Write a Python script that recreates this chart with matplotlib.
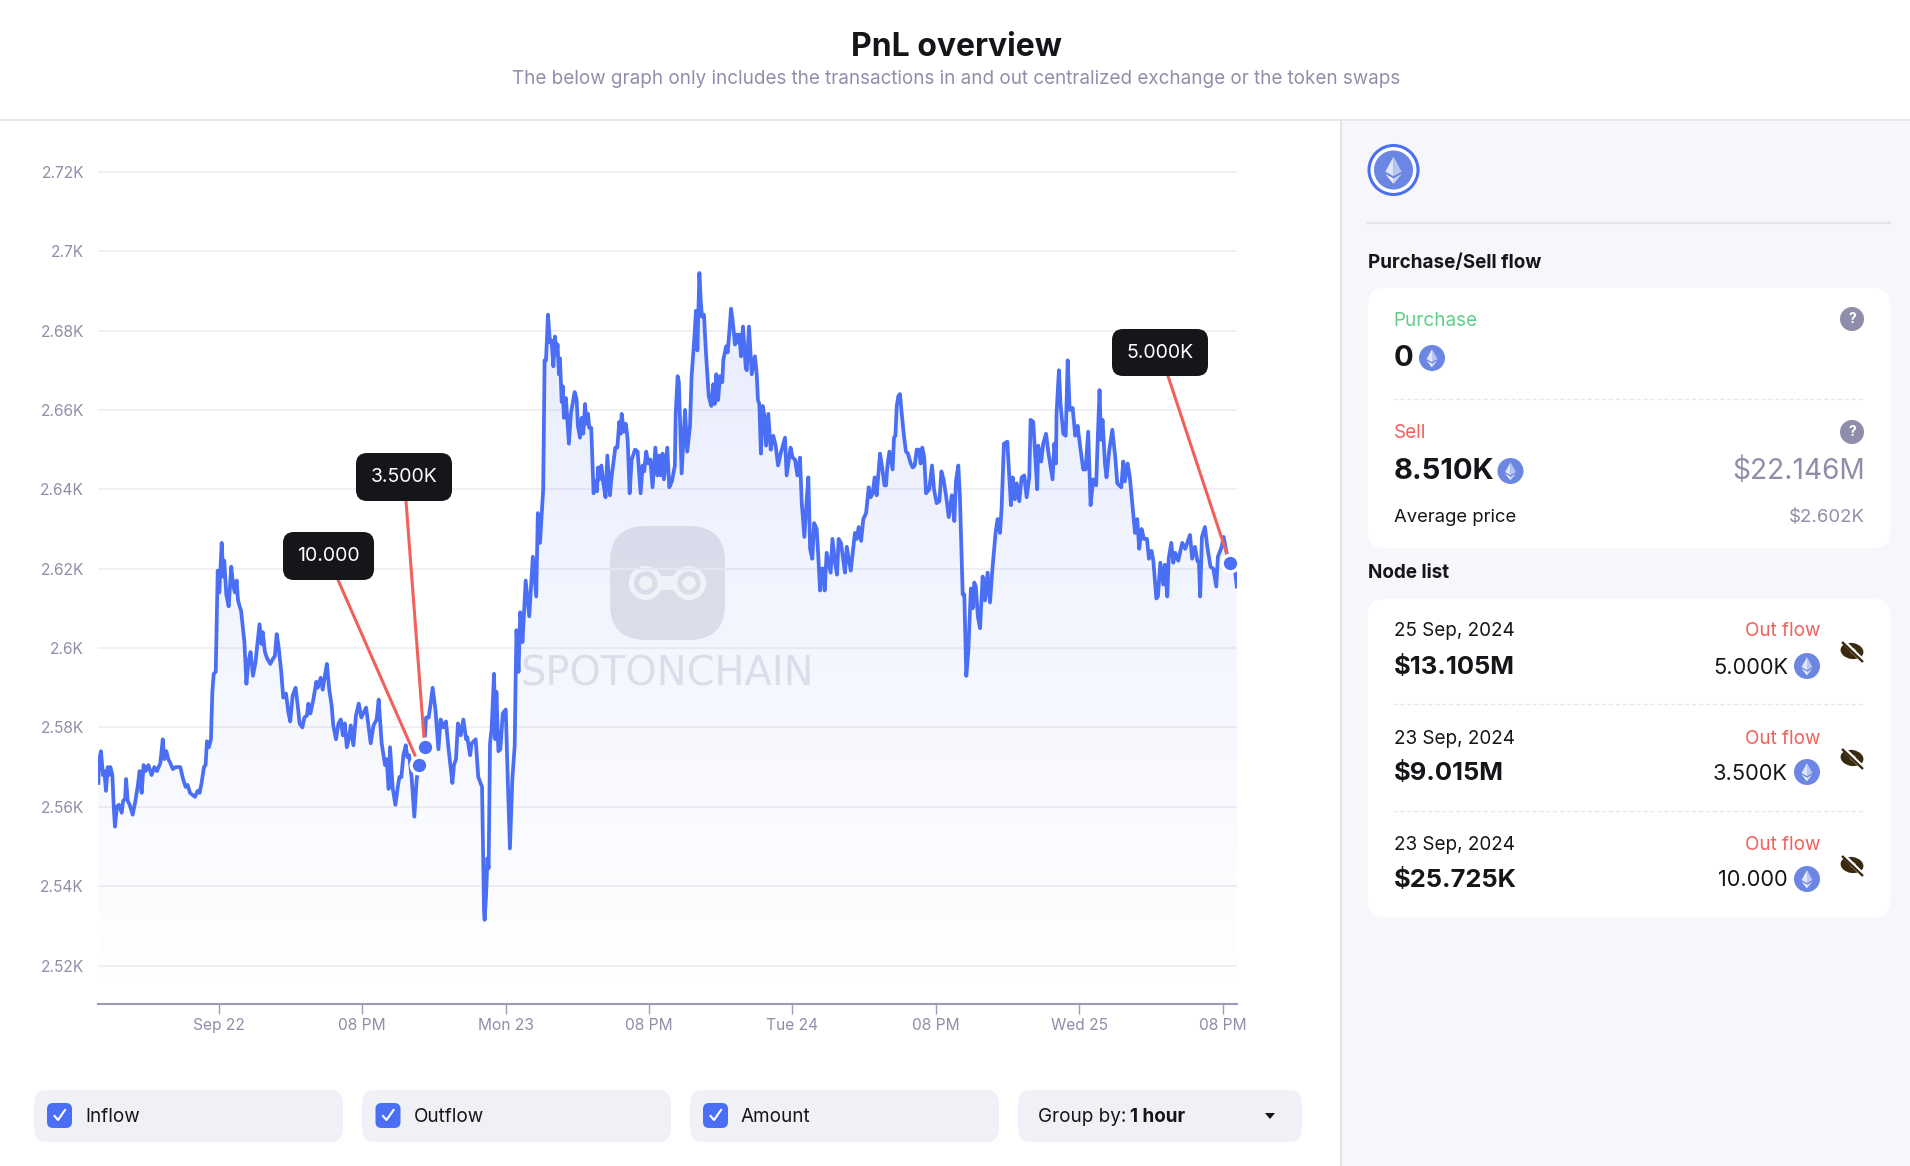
#!/usr/bin/env python3

import matplotlib

matplotlib.use("Agg")
import matplotlib.pyplot as plt
import numpy as np
from matplotlib.patches import Circle, Ellipse, FancyBboxPatch, Polygon, Rectangle

plt.rcParams["font.family"] = ["Inter", "DejaVu Sans"]

# minutes since the first sample, price in USD
minutes = [
    2, 5, 15, 25, 32, 40, 49, 55, 62, 72, 79, 85, 95, 105, 119, 126, 136, 141, 149, 159,
    174, 186, 199, 209, 219, 229, 239, 253, 269, 283, 296, 313, 325, 333, 343, 353, 363, 376, 390, 413,
    427, 440, 450, 462, 487, 500, 510, 520, 532, 540, 547, 557, 567, 574, 581, 591, 601, 609, 621, 629,
    634, 644, 656, 669, 679, 688, 696, 703, 711, 718, 735, 745, 755, 766, 778, 791, 800, 811, 821, 827,
    838, 848, 865, 875, 888, 897, 905, 919, 930, 944, 955, 965, 977, 992, 1006, 1012, 1026, 1036, 1049, 1056,
    1066, 1081, 1096, 1103, 1118, 1128, 1139, 1149, 1161, 1173, 1181, 1195, 1207, 1219, 1229, 1239, 1249, 1259, 1269, 1282,
    1295, 1309, 1322, 1346, 1369, 1383, 1399, 1409, 1424, 1441, 1449, 1459, 1466, 1480, 1493, 1505, 1513, 1523, 1533, 1545,
    1553, 1562, 1575, 1588, 1600, 1613, 1640, 1647, 1660, 1670, 1680, 1694, 1709, 1720, 1734, 1747, 1759, 1779, 1787, 1797,
    1807, 1821, 1834, 1848, 1854, 1868, 1876, 1896, 1909, 1928, 1938, 1941, 1948, 1955, 1961, 1968, 1976, 1988, 1995, 2000,
    2010, 2020, 2032, 2047, 2058, 2068, 2080, 2092, 2097, 2101, 2111, 2120, 2131, 2147, 2165, 2183, 2200, 2208, 2219, 2235,
    2242, 2249, 2259, 2269, 2277, 2286, 2294, 2302, 2307, 2314, 2319, 2328, 2333, 2339, 2349, 2364, 2374, 2393, 2403, 2409,
    2420, 2428, 2436, 2445, 2453, 2460, 2466, 2476, 2488, 2496, 2505, 2510, 2517, 2527, 2537, 2548, 2557, 2570, 2578, 2587,
    2597, 2607, 2617, 2624, 2629, 2640, 2650, 2659, 2669, 2679, 2696, 2709, 2724, 2734, 2742, 2752, 2763, 2773, 2784, 2798,
    2809, 2818, 2826, 2834, 2841, 2858, 2868, 2881, 2896, 2900, 2910, 2916, 2930, 2947, 2958, 2972, 2980, 2993, 3002, 3009,
    3019, 3026, 3032, 3042, 3052, 3066, 3079, 3089, 3096, 3104, 3113, 3123, 3134, 3139, 3153, 3161, 3170, 3178, 3186, 3198,
    3206, 3215, 3220, 3228, 3238, 3252, 3257, 3268, 3282, 3298, 3307, 3313, 3320, 3328, 3337, 3345, 3354, 3365, 3377, 3390,
    3402, 3414, 3427, 3449, 3457, 3477, 3487, 3499, 3511, 3524, 3533, 3546, 3558, 3566, 3575, 3586, 3595, 3608, 3615, 3625,
    3633, 3641, 3648, 3658, 3668, 3678, 3687, 3700, 3710, 3718, 3730, 3739, 3750, 3759, 3779, 3800, 3809, 3819, 3831, 3842,
    3856, 3869, 3879, 3889, 3899, 3909, 3926, 3938, 3948, 3956, 3963, 3973, 3989, 3996, 4003, 4010, 4018, 4026, 4035, 4046,
    4056, 4066, 4080, 4090, 4100, 4110, 4120, 4130, 4138, 4148, 4157, 4173, 4187, 4197, 4210, 4224, 4234, 4245, 4257, 4271,
    4286, 4299, 4307, 4319, 4327, 4336, 4341, 4349, 4359, 4369, 4382, 4391, 4399, 4407, 4417, 4428, 4441, 4453, 4466, 4478,
    4491, 4506, 4516, 4528, 4536, 4548, 4565, 4575, 4583, 4592, 4603, 4612, 4625, 4637, 4650, 4662, 4675, 4682, 4695, 4715,
    4720, 4735, 4745, 4759, 4772, 4792, 4801, 4809, 4812, 4824, 4832, 4846, 4858, 4868, 4878, 4893, 4906, 4918, 4930, 4946,
    4958, 4971, 4983, 4996, 5011, 5018, 5028, 5035, 5043, 5055, 5063, 5077, 5092, 5107, 5117, 5137, 5147, 5155, 5169, 5180,
    5194, 5206, 5217, 5227, 5239, 5251, 5266, 5276, 5289, 5298, 5313, 5321, 5333, 5348, 5356, 5368, 5375, 5388, 5398, 5408,
    5423, 5443, 5458, 5482, 5493, 5507, 5519, 5527, 5533, 5542, 5557, 5569, 5585, 5599, 5614, 5622, 5641, 5651, 5666, 5682,
    5709, 5717,
]
prices = [
    2566, 2571.5, 2574, 2568, 2569, 2564, 2570, 2568, 2570, 2568, 2560, 2555, 2560, 2560.5, 2558.5, 2561.5, 2562, 2567, 2561.5, 2560.5,
    2558, 2561, 2565, 2569, 2563.5, 2570.5, 2569, 2570.5, 2568, 2570, 2569, 2571, 2577, 2572, 2574, 2572, 2571, 2569.5, 2570, 2570,
    2567, 2565, 2565.5, 2563.5, 2562.5, 2564, 2563.5, 2566, 2570, 2570.5, 2576.5, 2575, 2577, 2589, 2593.5, 2594, 2619.5, 2614, 2626.5, 2618,
    2622, 2613.5, 2610.5, 2620.5, 2615.5, 2614, 2617, 2612, 2610.5, 2609.5, 2601.5, 2591, 2596.5, 2599, 2593, 2596.5, 2601, 2606, 2601, 2604,
    2599, 2597.5, 2596, 2597, 2598, 2603.5, 2601, 2594.5, 2587.5, 2588.5, 2584, 2581.5, 2588, 2590, 2584, 2581, 2580, 2582.5, 2583, 2586,
    2583.5, 2587, 2591.5, 2590, 2592.5, 2589.5, 2593, 2596, 2589.5, 2585.5, 2580.5, 2577, 2581, 2582, 2578, 2581, 2575, 2577, 2580.5, 2575.5,
    2583, 2586, 2582.5, 2585, 2576, 2580.5, 2582, 2587, 2576, 2570.5, 2572, 2564.5, 2575, 2564.5, 2560.5, 2565, 2567.5, 2567.5, 2573, 2575.5,
    2572.5, 2573, 2567, 2557.5, 2567, 2570.5, 2577, 2582.5, 2582.5, 2586, 2590, 2584.5, 2574.5, 2582, 2580, 2581.5, 2575, 2566, 2570.5, 2572,
    2581, 2578, 2582, 2577, 2577.5, 2573, 2576, 2577, 2567.5, 2565, 2533.5, 2531.5, 2537.5, 2547, 2544.5, 2576, 2579.5, 2593.5, 2577, 2589,
    2574, 2574.5, 2583.5, 2584.5, 2565.5, 2549.5, 2567, 2575.5, 2593.5, 2604.5, 2594, 2609, 2601.5, 2617, 2608, 2623, 2613, 2634, 2626.5, 2640,
    2672.5, 2672.5, 2684, 2677, 2677.5, 2671, 2678.5, 2674, 2676.5, 2669, 2673, 2662, 2666, 2658, 2663, 2651.5, 2659, 2664.5, 2662.5, 2656,
    2653, 2658, 2654, 2661.5, 2656.5, 2659, 2655.5, 2655.5, 2639, 2642, 2639.5, 2645.5, 2642.5, 2646, 2641.5, 2638, 2648.5, 2638.5, 2643, 2646.5,
    2650.5, 2650.5, 2657, 2654, 2659, 2654.5, 2656.5, 2652.5, 2639, 2647.5, 2650, 2649.5, 2639, 2646, 2644.5, 2649.5, 2646.5, 2647.5, 2640.5, 2650.5,
    2643.5, 2648.5, 2643.5, 2649, 2642.5, 2650.5, 2640.5, 2642, 2646, 2659, 2668.5, 2667, 2644, 2660, 2649.5, 2656, 2668.5, 2677.5, 2685, 2675,
    2694.5, 2687.5, 2683.5, 2684, 2674.5, 2663.5, 2661, 2666.5, 2661.5, 2669, 2662.5, 2668.5, 2667, 2672.5, 2676, 2674.5, 2680, 2685.5, 2682.5, 2676.5,
    2679, 2677, 2679, 2673.5, 2681, 2670.5, 2670, 2681, 2669, 2673.5, 2669, 2662.5, 2661.5, 2649, 2661, 2658.5, 2651, 2659, 2650, 2653.5,
    2651, 2646, 2649, 2653, 2643.5, 2650.5, 2648, 2647.5, 2643.5, 2648, 2636.5, 2628, 2637.5, 2643, 2625, 2622.5, 2631.5, 2630, 2624, 2614.5,
    2620, 2620, 2614.5, 2624, 2621.5, 2619, 2627.5, 2621.5, 2618.5, 2627.5, 2626.5, 2623, 2619, 2625.5, 2619.5, 2629, 2627.5, 2630.5, 2627, 2632.5,
    2634, 2640.5, 2638, 2639, 2643, 2638.5, 2649, 2645, 2641, 2641, 2646, 2649.5, 2645, 2653, 2653.5, 2661, 2663.5, 2664, 2659, 2653.5,
    2649.5, 2649, 2646.5, 2645.5, 2646, 2650, 2650, 2646.5, 2650.5, 2648, 2639, 2640, 2646, 2640, 2636.5, 2637, 2644.5, 2642.5, 2638.5, 2633,
    2638.5, 2632, 2642, 2646, 2638, 2622.5, 2613.5, 2613.5, 2593, 2599, 2615, 2610, 2616.5, 2615.5, 2608, 2605, 2618, 2612, 2619, 2611.5,
    2620.5, 2629, 2632.5, 2629, 2635, 2651.5, 2652, 2643, 2636, 2643, 2637.5, 2641.5, 2637, 2643, 2643.5, 2638, 2643, 2657.5, 2657, 2640,
    2651, 2647, 2651.5, 2654, 2649, 2642.5, 2651.5, 2646.5, 2659, 2670, 2661.5, 2654, 2653.5, 2672.5, 2660, 2660.5, 2653.5, 2656, 2651, 2645,
    2645, 2654.5, 2636, 2642.5, 2641, 2651.5, 2665, 2652.5, 2657.5, 2646.5, 2643, 2650, 2655, 2648, 2641.5, 2640.5, 2647, 2642, 2646.5, 2643,
    2635.5, 2629, 2632.5, 2625, 2630, 2627.5, 2627.5, 2622.5, 2624.5, 2622, 2612.5, 2613, 2621.5, 2616, 2621, 2613, 2622.5, 2626.5, 2621.5, 2624,
    2622, 2626.5, 2625, 2628.5, 2622.5, 2625.5, 2622, 2621.5, 2613, 2628, 2630.5, 2625.5, 2620.5, 2620, 2615.5, 2623, 2625.5, 2628, 2624, 2621.5,
    2619, 2615.5,
]

y_ticks = [2520, 2540, 2560, 2580, 2600, 2620, 2640, 2660, 2680, 2700, 2720]
y_tick_labels = ["2.52K", "2.54K", "2.56K", "2.58K", "2.6K", "2.62K", "2.64K", "2.66K", "2.68K", "2.7K", "2.72K"]
x_ticks = [606, 1326, 2046, 2766, 3486, 4206, 4926, 5646]
x_tick_labels = ["Sep 22", "08 PM", "Mon 23", "08 PM", "Tue 24", "08 PM", "Wed 25", "08 PM"]

# transaction nodes
node_minutes = [1613, 1640, 5682]
node_prices = [2570.5, 2575, 2621.5]
node_labels = ["10.000", "3.500K", "5.000K"]

flow_dates = ["25 Sep, 2024", "23 Sep, 2024", "23 Sep, 2024"]
flow_usd = ["$13.105M", "$9.015M", "$25.725K"]
flow_tokens = ["5.000K", "3.500K", "10.000"]

W, H = 1910, 1166
BLUE = "#4a6ff5"
DARK = "#14161a"
GREY = "#8e8eaa"
RED = "#f2605c"
GREEN = "#5fcf88"
COIN = "#6c86e3"


def page_axes(fig, zorder):
    a = fig.add_axes([0, 0, 1, 1], zorder=zorder)
    a.set_xlim(0, W)
    a.set_ylim(H, 0)
    a.autoscale(False)
    a.axis("off")
    return a


def round_box(a, x0, y0, x1, y1, r, color, **kw):
    a.add_patch(FancyBboxPatch((x0 + r, y0 + r), x1 - x0 - 2 * r, y1 - y0 - 2 * r,
                               boxstyle=f"round,pad={r},rounding_size={r}",
                               fc=color, ec="none", **kw))


def coin(a, cx, cy, r):
    a.add_patch(Circle((cx, cy), r, fc=COIN, ec="none"))
    top, mid, bot = cy - 0.68 * r, cy + 0.08 * r, cy + 0.72 * r
    a.add_patch(Polygon([(cx, top), (cx - 0.42 * r, mid), (cx, cy + 0.32 * r)], fc="#dfe5fb", ec="none"))
    a.add_patch(Polygon([(cx, top), (cx + 0.42 * r, mid), (cx, cy + 0.32 * r)], fc="#b9c6f4", ec="none"))
    a.add_patch(Polygon([(cx - 0.42 * r, cy + 0.2 * r), (cx, bot), (cx, cy + 0.44 * r)], fc="#f4f6fe", ec="none"))
    a.add_patch(Polygon([(cx + 0.42 * r, cy + 0.2 * r), (cx, bot), (cx, cy + 0.44 * r)], fc="#ccd6f8", ec="none"))


def help_icon(a, cx, cy):
    a.add_patch(Circle((cx, cy), 12, fc=GREY, ec="none"))
    a.text(cx, cy, "?", color="white", fontsize=10, fontweight="bold", ha="center", va="center")


def eye_icon(a, cx, cy):
    a.add_patch(Ellipse((cx, cy), 23, 16, angle=10, fc="#3a2a10", ec="none"))
    a.add_patch(Circle((cx + 1, cy), 3, fc="#8a7a60", ec="none"))
    a.plot([cx - 9, cx + 11], [cy - 10, cy + 10], color="white", lw=3.2, solid_capstyle="butt")
    a.plot([cx - 10, cx + 11], [cy - 9, cy + 11], color="#3a2a10", lw=1.7, solid_capstyle="butt")


def main():
    fig = plt.figure(figsize=(W / 100, H / 100), dpi=100, facecolor="white")

    back = page_axes(fig, 0)
    front = page_axes(fig, 5)

    def put(x, y, s, **kw):
        # va center sits a bit high with Inter, so nudge it down
        return front.text(x, y + 1.5, s, va="center", **kw)

    # watermark sits behind the chart, colours allow for the fill on top of it
    round_box(back, 610, 526, 725, 640, 36, "#e5e5e9")
    for cx in (645.7, 689):
        back.add_patch(Circle((cx, 583), 17, fc="#fefdf9", ec="none"))
    back.add_patch(Rectangle((645, 576), 44, 14, fc="#fefdf9", ec="none"))
    for cx in (645.7, 689):
        back.add_patch(Circle((cx, 583), 11.7, fc="#e5e5e9", ec="none"))
        back.add_patch(Circle((cx, 583), 6.7, fc="#fefdf9", ec="none"))
    back.text(667.5, 675, "SPOTONCHAIN", color="#e4e4ea", fontsize=28.8, family="DejaVu Sans",
              ha="center", va="center")

    # chart
    ax_left, ax_right, ax_top, ax_bottom = 98, 1237, 150, 1004
    ax = fig.add_axes([ax_left / W, 1 - ax_bottom / H, (ax_right - ax_left) / W, (ax_bottom - ax_top) / H],
                      zorder=2)
    ax.patch.set_alpha(0)
    x_max, y_min, y_max = 5718, 2510.3, 2725.5

    t = np.array(minutes)
    p = np.array(prices)

    ax.set_yticks(y_ticks, y_tick_labels)
    ax.set_xticks(x_ticks, x_tick_labels)
    ax.grid(axis="y", color="#f0f0f4", lw=1.4, zorder=0)
    ax.set_axisbelow(True)

    rgba = np.zeros((256, 1, 4))
    rgba[..., 0] = 74 / 255
    rgba[..., 1] = 111 / 255
    rgba[..., 2] = 245 / 255
    rgba[:, 0, 3] = np.linspace(0.15, 0.0, 256)
    grad = ax.imshow(rgba, extent=[0, x_max, y_min, y_max], aspect="auto", origin="upper", zorder=1)
    poly = ax.fill_between(t, p, y_min, color="none")
    clip = poly.get_paths()[0]
    grad.set_clip_path(clip, transform=ax.transData)

    ax.plot(t, p, color=BLUE, lw=2.7, solid_joinstyle="round", zorder=3)
    ax.set_xlim(0, x_max)
    ax.set_ylim(y_min, y_max)

    for side in ("top", "left", "right"):
        ax.spines[side].set_visible(False)
    ax.spines["bottom"].set_color("#9b9bb5")
    ax.spines["bottom"].set_linewidth(1.5)
    ax.tick_params(axis="x", color="#9b9bb5", length=7, width=1, labelcolor=GREY, labelsize=11.2, pad=3)
    ax.tick_params(axis="y", length=0, labelcolor=GREY, labelsize=11.2, pad=10)

    # callouts in page pixels, tied to the node markers
    boxes = [(283, 532, 374, 580, 338), (356, 453, 452, 501, 406), (1112, 329, 1208, 376, 1168)]
    for (x0, y0, x1, y1, foot), mt, mp, lab in zip(boxes, node_minutes, node_prices, node_labels):
        px, py = ax.transData.transform((mt, mp))
        front.plot([foot, px], [y1, H - py], color=RED, lw=2.2, zorder=1)
        round_box(front, x0, y0, x1, y1, 11, DARK, zorder=2)
        front.text((x0 + x1) / 2, (y0 + y1) / 2, lab, color="white", fontsize=14, ha="center", va="center", zorder=3)
    front.plot(node_minutes, node_prices, "o", ms=12, color=BLUE, mec="white", mew=2.4, zorder=4,
               transform=ax.transData, clip_on=False)

    # header
    front.plot([0, W], [119.5, 119.5], color="#e3e3e8", lw=1.2)
    put(956, 45.5, "PnL overview", color=DARK, fontsize=23, fontweight="bold", ha="center")
    put(956, 78, "The below graph only includes the transactions in and out centralized exchange or the token swaps",
        color="#8f8fad", fontsize=13.55, ha="center")

    # side panel
    back.add_patch(Rectangle((1341, 120), W - 1341, H - 120, fc="#f6f6fb", ec="none"))
    back.plot([1341, 1341], [120, H], color="#e3e3e8", lw=1.6)
    front.add_patch(Circle((1393.5, 170), 24.5, fc="white", ec=BLUE, lw=2.2))
    coin(front, 1393.5, 170, 19.5)
    front.plot([1368, 1890], [222.7, 222.7], color="#e3e3e8", lw=1.6)

    x_text = 1393.5
    x_right = 1865
    put(1368, 261, "Purchase/Sell flow", color=DARK, fontsize=13.6, fontweight="bold")
    round_box(front, 1368, 288, 1890, 548, 16, "white")
    put(x_text, 319, "Purchase", color=GREEN, fontsize=13.6)
    help_icon(front, 1852, 319)
    put(x_text, 357, "0", color=DARK, fontsize=21, fontweight="bold")
    coin(front, 1432, 358, 13)
    front.plot([1393, 1865], [399, 399], color="#e8e8ec", lw=1, ls=(0, (3, 2)))
    put(x_text, 432, "Sell", color=RED, fontsize=13.6)
    help_icon(front, 1852, 432)
    put(x_text, 470, "8.510K", color=DARK, fontsize=21, fontweight="bold")
    coin(front, 1510.5, 471, 13)
    put(x_right, 470, "$22.146M", color=GREY, fontsize=20.2, ha="right")
    put(x_text, 516, "Average price", color=DARK, fontsize=13.3)
    put(x_right, 516, "$2.602K", color=GREY, fontsize=13.4, ha="right")

    put(1368, 572, "Node list", color=DARK, fontsize=13.6, fontweight="bold")
    round_box(front, 1368, 599, 1890, 917, 16, "white")
    row_date_y = [630, 737, 843]
    row_usd_y = [666, 772, 879]
    row_eye_y = [651, 758, 865]
    for i in range(3):
        put(x_text, row_date_y[i], flow_dates[i], color=DARK, fontsize=13.6)
        put(1820, row_date_y[i], "Out flow", color=RED, fontsize=13.6, ha="right")
        put(x_text, row_usd_y[i], flow_usd[i], color=DARK, fontsize=18.4, fontweight="bold")
        put(1788, row_usd_y[i], flow_tokens[i], color=DARK, fontsize=15.7, ha="right")
        coin(front, 1807, row_usd_y[i], 13)
        eye_icon(front, 1852, row_eye_y[i])
    for y in (704, 811):
        front.plot([1393, 1865], [y, y], color="#e8e8ec", lw=1, ls=(0, (3, 2)))

    # bottom controls
    for x0, x1, box_x, lab in [(34, 343, 47, "Inflow"), (362, 671, 375.5, "Outflow"), (690, 999, 703, "Amount")]:
        round_box(front, x0, 1090, x1, 1142, 13, "#f0f1f6")
        round_box(front, box_x, 1103, box_x + 25, 1128, 6, BLUE)
        front.plot([box_x + 7.5, box_x + 11, box_x + 18], [1116, 1120, 1110], color="white", lw=1.5)
        put(box_x + 38, 1116, lab, color=DARK, fontsize=13.6)
    round_box(front, 1018, 1090, 1302, 1142, 13, "#f0f1f6")
    group = put(1038, 1116, "Group by: ", color=DARK, fontsize=13.6)
    fig.canvas.draw()
    end = group.get_window_extent().x1
    put(end - 2, 1116, "1 hour", color=DARK, fontsize=13.6, fontweight="bold")
    front.add_patch(Polygon([(1265, 1113), (1275, 1113), (1270, 1119)], fc=DARK, ec="none"))

    fig.savefig("out.png", dpi=100)


if __name__ == "__main__":
    main()
